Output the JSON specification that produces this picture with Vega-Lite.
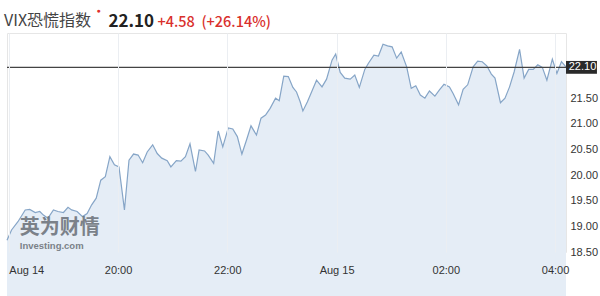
{
  "$schema": "https://vega.github.io/schema/vega-lite/v6.json",
  "width": 559,
  "height": 219,
  "autosize": {"type": "none"},
  "padding": {"left": 7, "top": 33, "right": 34, "bottom": 44},
  "background": "#ffffff",
  "title": {
    "text": "VIX恐慌指数",
    "anchor": "start",
    "frame": "group",
    "dx": -3,
    "dy": 43,
    "font": "Noto Sans CJK SC",
    "fontSize": 16,
    "fontWeight": "normal",
    "color": "#444444",
    "baseline": "alphabetic",
    "offset": 7
  },
  "config": {
    "view": {"stroke": "#e6e6e6"},
    "axis": {"labelFont": "Liberation Sans", "labelFontSize": 11, "labelColor": "#333333"}
  },
  "datasets": {
    "vix": [
      {"t": "2019-08-14T17:58:00Z", "v": 18.73},
      {"t": "2019-08-14T18:03:00Z", "v": 18.93},
      {"t": "2019-08-14T18:10:00Z", "v": 19.09},
      {"t": "2019-08-14T18:18:00Z", "v": 19.32},
      {"t": "2019-08-14T18:23:00Z", "v": 19.33},
      {"t": "2019-08-14T18:29:00Z", "v": 19.27},
      {"t": "2019-08-14T18:34:00Z", "v": 19.29},
      {"t": "2019-08-14T18:38:00Z", "v": 19.22},
      {"t": "2019-08-14T18:43:00Z", "v": 19.16},
      {"t": "2019-08-14T18:49:00Z", "v": 19.32},
      {"t": "2019-08-14T18:54:00Z", "v": 19.29},
      {"t": "2019-08-14T19:00:00Z", "v": 19.27},
      {"t": "2019-08-14T19:05:00Z", "v": 19.37},
      {"t": "2019-08-14T19:09:00Z", "v": 19.32},
      {"t": "2019-08-14T19:15:00Z", "v": 19.29},
      {"t": "2019-08-14T19:21:00Z", "v": 19.19},
      {"t": "2019-08-14T19:26:00Z", "v": 19.25},
      {"t": "2019-08-14T19:31:00Z", "v": 19.42},
      {"t": "2019-08-14T19:36:00Z", "v": 19.55},
      {"t": "2019-08-14T19:41:00Z", "v": 19.90},
      {"t": "2019-08-14T19:46:00Z", "v": 19.97},
      {"t": "2019-08-14T19:51:00Z", "v": 20.36},
      {"t": "2019-08-14T19:56:00Z", "v": 20.20},
      {"t": "2019-08-14T20:01:00Z", "v": 20.16},
      {"t": "2019-08-14T20:07:00Z", "v": 19.32},
      {"t": "2019-08-14T20:12:00Z", "v": 20.29},
      {"t": "2019-08-14T20:17:00Z", "v": 20.41},
      {"t": "2019-08-14T20:22:00Z", "v": 20.39},
      {"t": "2019-08-14T20:27:00Z", "v": 20.24},
      {"t": "2019-08-14T20:32:00Z", "v": 20.45},
      {"t": "2019-08-14T20:38:00Z", "v": 20.59},
      {"t": "2019-08-14T20:43:00Z", "v": 20.42},
      {"t": "2019-08-14T20:48:00Z", "v": 20.33},
      {"t": "2019-08-14T20:54:00Z", "v": 20.28},
      {"t": "2019-08-14T20:58:00Z", "v": 20.16},
      {"t": "2019-08-14T21:04:00Z", "v": 20.28},
      {"t": "2019-08-14T21:09:00Z", "v": 20.27},
      {"t": "2019-08-14T21:14:00Z", "v": 20.36},
      {"t": "2019-08-14T21:19:00Z", "v": 20.61},
      {"t": "2019-08-14T21:25:00Z", "v": 20.07},
      {"t": "2019-08-14T21:29:00Z", "v": 20.49},
      {"t": "2019-08-14T21:35:00Z", "v": 20.47},
      {"t": "2019-08-14T21:39:00Z", "v": 20.39},
      {"t": "2019-08-14T21:45:00Z", "v": 20.23},
      {"t": "2019-08-14T21:50:00Z", "v": 20.86},
      {"t": "2019-08-14T21:55:00Z", "v": 20.55},
      {"t": "2019-08-14T22:01:00Z", "v": 20.92},
      {"t": "2019-08-14T22:06:00Z", "v": 20.90},
      {"t": "2019-08-14T22:11:00Z", "v": 20.75},
      {"t": "2019-08-14T22:16:00Z", "v": 20.41},
      {"t": "2019-08-14T22:21:00Z", "v": 20.68},
      {"t": "2019-08-14T22:26:00Z", "v": 20.96},
      {"t": "2019-08-14T22:32:00Z", "v": 20.78},
      {"t": "2019-08-14T22:37:00Z", "v": 21.11},
      {"t": "2019-08-14T22:42:00Z", "v": 21.17},
      {"t": "2019-08-14T22:47:00Z", "v": 21.30},
      {"t": "2019-08-14T22:53:00Z", "v": 21.50},
      {"t": "2019-08-14T22:57:00Z", "v": 21.45},
      {"t": "2019-08-14T23:02:00Z", "v": 21.93},
      {"t": "2019-08-14T23:07:00Z", "v": 21.92},
      {"t": "2019-08-14T23:12:00Z", "v": 21.71},
      {"t": "2019-08-14T23:16:00Z", "v": 21.62},
      {"t": "2019-08-14T23:20:00Z", "v": 21.43},
      {"t": "2019-08-14T23:23:00Z", "v": 21.25},
      {"t": "2019-08-14T23:28:00Z", "v": 21.43},
      {"t": "2019-08-14T23:33:00Z", "v": 21.64},
      {"t": "2019-08-14T23:38:00Z", "v": 21.85},
      {"t": "2019-08-14T23:44:00Z", "v": 21.72},
      {"t": "2019-08-14T23:49:00Z", "v": 21.87},
      {"t": "2019-08-14T23:55:00Z", "v": 22.24},
      {"t": "2019-08-14T23:59:00Z", "v": 22.36},
      {"t": "2019-08-15T00:04:00Z", "v": 22.00},
      {"t": "2019-08-15T00:09:00Z", "v": 21.89},
      {"t": "2019-08-15T00:15:00Z", "v": 21.87},
      {"t": "2019-08-15T00:20:00Z", "v": 21.95},
      {"t": "2019-08-15T00:25:00Z", "v": 21.71},
      {"t": "2019-08-15T00:31:00Z", "v": 22.06},
      {"t": "2019-08-15T00:35:00Z", "v": 22.18},
      {"t": "2019-08-15T00:41:00Z", "v": 22.34},
      {"t": "2019-08-15T00:46:00Z", "v": 22.32},
      {"t": "2019-08-15T00:51:00Z", "v": 22.55},
      {"t": "2019-08-15T00:56:00Z", "v": 22.52},
      {"t": "2019-08-15T01:01:00Z", "v": 22.50},
      {"t": "2019-08-15T01:06:00Z", "v": 22.28},
      {"t": "2019-08-15T01:11:00Z", "v": 22.40},
      {"t": "2019-08-15T01:17:00Z", "v": 22.11},
      {"t": "2019-08-15T01:22:00Z", "v": 21.69},
      {"t": "2019-08-15T01:27:00Z", "v": 21.74},
      {"t": "2019-08-15T01:32:00Z", "v": 21.56},
      {"t": "2019-08-15T01:37:00Z", "v": 21.50},
      {"t": "2019-08-15T01:42:00Z", "v": 21.64},
      {"t": "2019-08-15T01:48:00Z", "v": 21.54},
      {"t": "2019-08-15T01:53:00Z", "v": 21.66},
      {"t": "2019-08-15T01:58:00Z", "v": 21.77},
      {"t": "2019-08-15T02:04:00Z", "v": 21.72},
      {"t": "2019-08-15T02:08:00Z", "v": 21.59},
      {"t": "2019-08-15T02:14:00Z", "v": 21.37},
      {"t": "2019-08-15T02:19:00Z", "v": 21.67},
      {"t": "2019-08-15T02:24:00Z", "v": 21.76},
      {"t": "2019-08-15T02:30:00Z", "v": 22.11},
      {"t": "2019-08-15T02:35:00Z", "v": 22.22},
      {"t": "2019-08-15T02:40:00Z", "v": 22.21},
      {"t": "2019-08-15T02:45:00Z", "v": 22.13},
      {"t": "2019-08-15T02:50:00Z", "v": 21.97},
      {"t": "2019-08-15T02:54:00Z", "v": 21.89},
      {"t": "2019-08-15T03:00:00Z", "v": 21.41},
      {"t": "2019-08-15T03:05:00Z", "v": 21.50},
      {"t": "2019-08-15T03:10:00Z", "v": 21.72},
      {"t": "2019-08-15T03:15:00Z", "v": 22.01},
      {"t": "2019-08-15T03:21:00Z", "v": 22.45},
      {"t": "2019-08-15T03:26:00Z", "v": 21.89},
      {"t": "2019-08-15T03:31:00Z", "v": 22.06},
      {"t": "2019-08-15T03:36:00Z", "v": 22.06},
      {"t": "2019-08-15T03:41:00Z", "v": 22.15},
      {"t": "2019-08-15T03:46:00Z", "v": 22.10},
      {"t": "2019-08-15T03:51:00Z", "v": 21.85},
      {"t": "2019-08-15T03:57:00Z", "v": 22.26},
      {"t": "2019-08-15T04:02:00Z", "v": 21.98},
      {"t": "2019-08-15T04:07:00Z", "v": 22.21},
      {"t": "2019-08-15T04:11:00Z", "v": 22.13},
      {"t": "2019-08-15T04:12:00Z", "v": 22.10}
    ],
    "last": [{"value": 22.10, "label": "22.10"}]
  },
  "layer": [
    {
      "data": {"name": "vix"},
      "encoding": {
        "x": {
          "field": "t",
          "type": "temporal",
          "scale": {
            "type": "utc",
            "domain": [
              {"year": 2019, "month": 8, "date": 14, "hours": 17, "minutes": 58, "utc": true},
              {"year": 2019, "month": 8, "date": 15, "hours": 4, "minutes": 12, "utc": true}
            ]
          },
          "axis": {
            "values": [
              {"year": 2019, "month": 8, "date": 14, "hours": 18, "utc": true},
              {"year": 2019, "month": 8, "date": 14, "hours": 20, "utc": true},
              {"year": 2019, "month": 8, "date": 14, "hours": 22, "utc": true},
              {"year": 2019, "month": 8, "date": 15, "hours": 0, "utc": true},
              {"year": 2019, "month": 8, "date": 15, "hours": 2, "utc": true},
              {"year": 2019, "month": 8, "date": 15, "hours": 4, "utc": true}
            ],
            "labelExpr": "(utchours(datum.value) === 0 || utchours(datum.value) === 18) ? utcFormat(datum.value, '%b %d') : utcFormat(datum.value, '%H:%M')",
            "labelFlush": false,
            "labelAlign": {"condition": {"test": "utchours(datum.value) === 18", "value": "left"}, "value": "center"},
            "labelPadding": 12,
            "ticks": false,
            "domain": false,
            "grid": true,
            "gridColor": "#ebeef2",
            "zindex": 1,
            "title": "+4.58\u00a0\u00a0(+26.14%)",
            "titleFont": "Noto Sans CJK SC",
            "titleFontSize": 14.5,
            "titleFontWeight": 500,
            "titleColor": "#d9302c",
            "titleAlign": "left",
            "titleBaseline": "alphabetic",
            "titleAnchor": "start",
            "titleX": 150,
            "titleY": -226
          }
        },
        "y": {
          "field": "v",
          "type": "quantitative",
          "scale": {"domain": [18.5, 22.77], "nice": false, "zero": false},
          "axis": {
            "orient": "right",
            "values": [18.5, 19, 19.5, 20, 20.5, 21, 21.5],
            "format": ".2f",
            "labelPadding": 4,
            "ticks": false,
            "domain": false,
            "grid": false,
            "title": "22.10",
            "titleFont": "Noto Sans CJK SC",
            "titleFontSize": 17,
            "titleFontWeight": "bold",
            "titleColor": "#222222",
            "titleAngle": 0,
            "titleAlign": "left",
            "titleBaseline": "alphabetic",
            "titleX": -458,
            "titleY": -7
          }
        }
      },
      "layer": [
        {"mark": {"type": "area", "color": "#e5edf6", "opacity": 1}},
        {"mark": {"type": "line", "color": "#86a5c7", "strokeWidth": 1.2}}
      ]
    },
    {
      "data": {"name": "last"},
      "mark": {"type": "rule", "color": "#444444", "strokeWidth": 1.3},
      "encoding": {
        "y": {
          "field": "value",
          "type": "quantitative",
          "axis": {
            "orient": "left",
            "labels": false,
            "ticks": false,
            "domain": false,
            "grid": false,
            "title": "●",
            "titleFontSize": 7,
            "titleColor": "#e0302c",
            "titleAngle": 0,
            "titleAlign": "center",
            "titleBaseline": "middle",
            "titleX": 91,
            "titleY": -23
          }
        }
      }
    },
    {
      "data": {"name": "last"},
      "mark": {"type": "rect", "color": "#2a2a2a"},
      "encoding": {
        "x": {"datum": {"year": 2019, "month": 8, "date": 15, "hours": 4, "minutes": 12, "utc": true}, "type": "temporal"},
        "x2": {"datum": {"year": 2019, "month": 8, "date": 15, "hours": 4, "minutes": 46, "utc": true}},
        "y": {"datum": 21.975, "type": "quantitative", "axis": null},
        "y2": {"datum": 22.225}
      }
    },
    {
      "data": {"name": "last"},
      "mark": {"type": "text", "color": "#ffffff", "font": "Liberation Sans", "fontSize": 11, "align": "left", "baseline": "middle"},
      "encoding": {
        "x": {"datum": {"year": 2019, "month": 8, "date": 15, "hours": 4, "minutes": 15, "utc": true}, "type": "temporal"},
        "y": {"field": "value", "type": "quantitative", "axis": null},
        "text": {"field": "label"}
      }
    },
    {
      "data": {"values": [{"label": "英为财情"}]},
      "mark": {"type": "text", "color": "#70767e", "font": "Noto Sans CJK SC", "fontWeight": "bold", "fontSize": 20, "align": "left", "baseline": "middle", "opacity": 0.9},
      "encoding": {
        "x": {"datum": {"year": 2019, "month": 8, "date": 14, "hours": 18, "minutes": 12, "utc": true}, "type": "temporal"},
        "y": {"datum": 18.96, "type": "quantitative", "axis": null},
        "text": {"field": "label"}
      }
    },
    {
      "data": {"values": [{"label": "Investing.com"}]},
      "mark": {"type": "text", "color": "#6f757c", "font": "Liberation Sans", "fontWeight": "bold", "fontSize": 9.5, "align": "left", "baseline": "middle", "opacity": 0.9},
      "encoding": {
        "x": {"datum": {"year": 2019, "month": 8, "date": 14, "hours": 18, "minutes": 12, "utc": true}, "type": "temporal"},
        "y": {"datum": 18.62, "type": "quantitative", "axis": null},
        "text": {"field": "label"}
      }
    }
  ],
  "resolve": {"axis": {"y": "independent"}}
}
